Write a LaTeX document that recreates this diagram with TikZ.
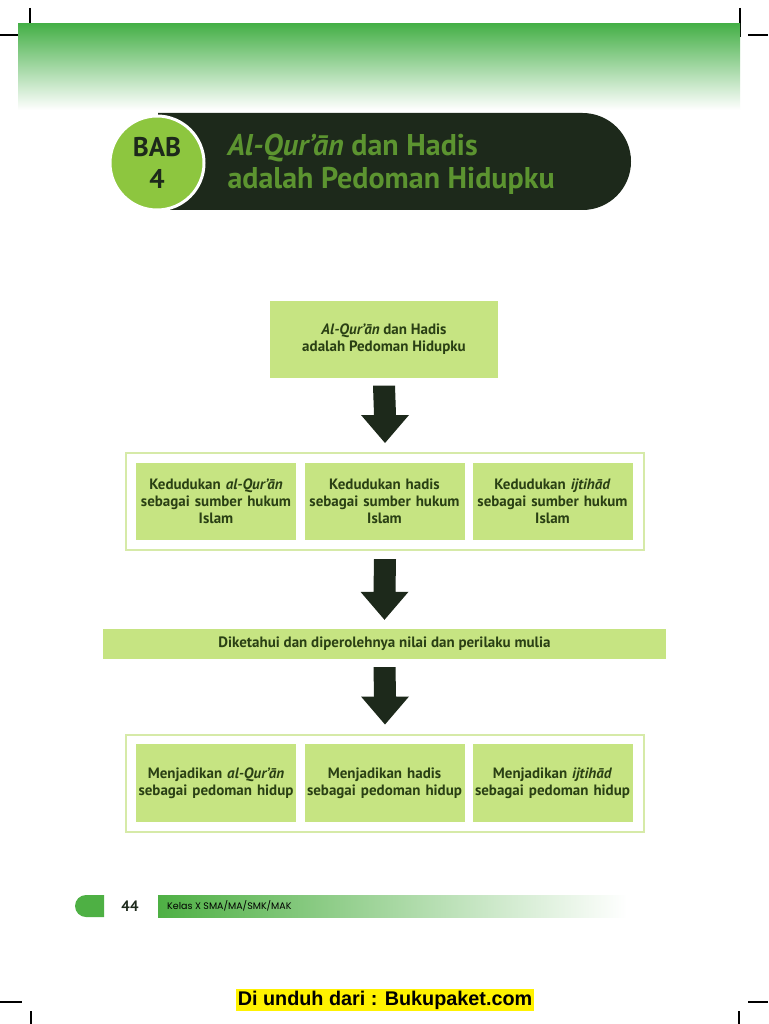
\documentclass[tikz,border=0pt]{standalone}
\usepackage{fontspec}
\setmainfont{PT Sans}
\newfontfamily\arialfont{Liberation Sans}
\newfontfamily\kelasfont{Poppins}
\usetikzlibrary{calc}
\definecolor{bandgreen}{RGB}{70,176,72}
\definecolor{headdark}{RGB}{29,41,27}
\definecolor{babgreen}{RGB}{141,198,63}
\definecolor{titlegreen}{RGB}{92,148,48}
\definecolor{boxgreen}{RGB}{198,228,130}
\definecolor{txtgreen}{RGB}{42,64,20}
\definecolor{rimgreen}{RGB}{214,234,168}
\definecolor{footgreen}{RGB}{78,176,68}

\begin{document}
\begin{tikzpicture}[x=1pt,y=-1pt,
  lightbox/.style={fill=boxgreen,text=txtgreen,font=\fontsize{15}{17}\selectfont\bfseries,align=center,inner sep=0pt},
  groupbox/.style={draw=rimgreen,line width=2pt,fill=white,minimum width=518pt,minimum height=97pt},
  subbox/.style={lightbox,minimum width=160pt,minimum height=77pt,text width=158pt},
  cropmark/.style={line width=1.3pt}]
\useasboundingbox (0,0) rectangle (768,1024);
\fill[white] (0,0) rectangle (768,1024);
% crop marks
\draw[cropmark] (30,8)--(30,37) (0,35)--(20,35) (740,8)--(740,37) (748,35)--(768,35);
\draw[cropmark] (31,1011)--(31,1024) (0,1002)--(22,1002) (739,1011)--(739,1024) (748,1002)--(768,1002);
% header
\shade[top color=bandgreen,middle color=bandgreen!55,bottom color=white] (18,24) rectangle (740,110);
\fill[headdark] (158,113) [rounded corners=48.5pt] -- (631,113) -- (631,210) [sharp corners] -- (158,210) -- cycle;
\node[circle,fill=babgreen,draw=white,line width=3pt,minimum size=94pt,align=center,
  text=headdark,font=\fontsize{27}{32}\selectfont\bfseries] (bab) at (157,163) {BAB\\4};
\node[anchor=west,align=left,text=titlegreen,font=\fontsize{30}{33}\selectfont\bfseries] (title) at (224,164)
  {\textit{Al-Qur’ān} dan Hadis\\adalah Pedoman Hidupku};
% chart
\node[lightbox,minimum width=228pt,minimum height=77pt] (main) at (384,339)
  {\textit{Al-Qur’ān} dan Hadis\\adalah Pedoman Hidupku};
\node[groupbox] (kedudukan) at (385,501.5) {};
\node[subbox] (k1) at (216,501.5) {Kedudukan \textit{al-Qur’ān}\\sebagai sumber hukum\\Islam};
\node[subbox] (k2) at (384.5,501.5) {Kedudukan hadis\\sebagai sumber hukum\\Islam};
\node[subbox] (k3) at (552.5,501.5) {Kedudukan \textit{ijtihād}\\sebagai sumber hukum\\Islam};
\node[lightbox,minimum width=563pt,minimum height=30pt] (nilai) at (384.5,644)
  {Diketahui dan diperolehnya nilai dan perilaku mulia};
\node[groupbox] (menjadikan) at (385,783) {};
\node[subbox,minimum height=78pt] (m1) at (216,783) {Menjadikan \textit{al-Qur’ān}\\sebagai pedoman hidup};
\node[subbox,minimum height=78pt] (m2) at (384.5,783) {Menjadikan hadis\\sebagai pedoman hidup};
\node[subbox,minimum height=78pt] (m3) at (552.5,783) {Menjadikan \textit{ijtihād}\\sebagai pedoman hidup};
\foreach \a/\b in {main/kedudukan,kedudukan/nilai,nilai/menjadikan}
  \fill[headdark] ($(\a.south)+(-11,8)$) -- ($(\a.south)+(11,8)$) -- ($(\b.north)+(11,-37)$)
    -- ($(\b.north)+(24,-37)$) -- ($(\b.north)+(0,-9)$) -- ($(\b.north)+(-24,-37)$)
    -- ($(\b.north)+(-11,-37)$) -- cycle;
% footer
\fill[footgreen] (104,895) [rounded corners=11pt] -- (75,895) -- (75,917) [sharp corners] -- (104,917) -- cycle;
\node[font=\fontsize{15}{15}\selectfont\bfseries,text=headdark] (page) at (130,906) {44};
\shade[left color=footgreen,middle color=footgreen!55,right color=white] (158,895) rectangle (627,917);
\node[anchor=west,font=\kelasfont\fontsize{9.5}{9.5}\selectfont,inner sep=0pt] (kelas) at (167,906) {Kelas X SMA/MA/SMK/MAK};
\node[fill=yellow,font=\arialfont\fontsize{19.8}{19.8}\selectfont\bfseries,inner sep=1.5pt] (unduh) at (385,1000)
  {Di unduh dari : Bukupaket.com};
\end{tikzpicture}
\end{document}
